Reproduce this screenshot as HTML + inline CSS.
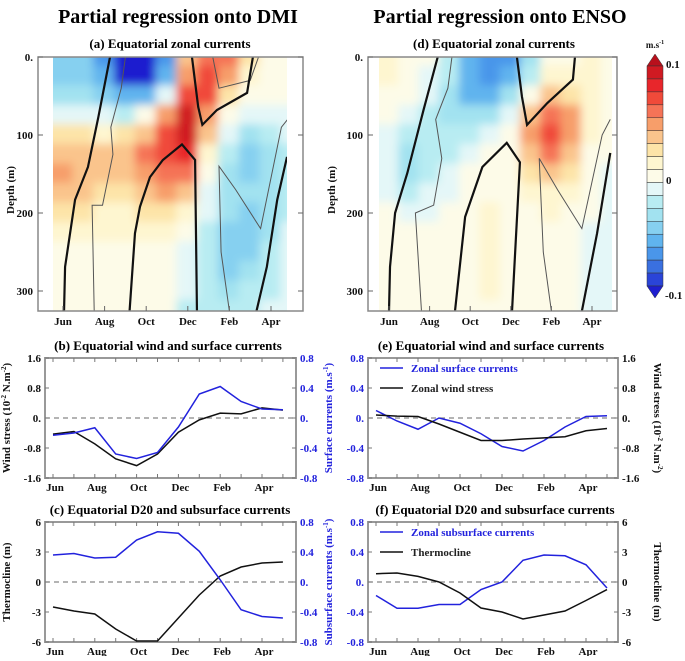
<!DOCTYPE html>
<html><head><meta charset="utf-8">
<style>
html,body{margin:0;padding:0;background:#fff;}
svg text{font-family:"Liberation Serif",serif;font-weight:bold;}
</style></head>
<body>
<svg id="fig" width="685" height="656" viewBox="0 0 685 656" xmlns="http://www.w3.org/2000/svg">
<defs>
<filter id="blur" x="-10%" y="-10%" width="120%" height="120%"><feGaussianBlur stdDeviation="4.5"/></filter>
<clipPath id="clipA"><rect x="53" y="57" width="234" height="254"/></clipPath>
<clipPath id="clipD"><rect x="379" y="57" width="233" height="254"/></clipPath>
</defs>
<text x="178" y="23" font-size="20" text-anchor="middle">Partial regression onto DMI</text>
<text x="500" y="23" font-size="20" text-anchor="middle">Partial regression onto ENSO</text>
<text x="170" y="48" font-size="13" text-anchor="middle">(a) Equatorial zonal currents</text>
<text x="494" y="48" font-size="13" text-anchor="middle">(d) Equatorial zonal currents</text>
<text x="168" y="350" font-size="13" text-anchor="middle">(b) Equatorial wind and surface currents</text>
<text x="170" y="514" font-size="13" text-anchor="middle">(c) Equatorial D20 and subsurface currents</text>
<text x="491" y="350" font-size="13" text-anchor="middle">(e) Equatorial wind and surface currents</text>
<text x="495" y="514" font-size="13" text-anchor="middle">(f) Equatorial D20 and subsurface currents</text>
<g id="root"></g>
</svg>
<script>
const months = ["Jun","Jul","Aug","Sep","Oct","Nov","Dec","Jan","Feb","Mar","Apr","May"];
const monthTicks = ["Jun","Aug","Oct","Dec","Feb","Apr"];
const depths = [0,25,50,75,100,125,150,175,200,225,250,275,300,325];
// heatmap values (columns = months, rows = depths), scaled to +-1 (= +-0.1 m/s)
const dmiField = [
 [-0.4,-0.4,-0.3,-0.1,0.2,0.35,0.4,0.35,0.2,0.1,0.05,0.05,0.05,0.05],
 [-0.45,-0.45,-0.35,-0.1,0.2,0.35,0.35,0.3,0.2,0.1,0.05,0.05,0.05,0.05],
 [-0.7,-0.6,-0.4,-0.15,0.15,0.3,0.3,0.25,0.15,0.1,0.05,0.05,0.05,0.05],
 [-1,-0.95,-0.6,-0.2,0.2,0.35,0.3,0.2,0.15,0.1,0.05,0.05,0.05,0.05],
 [-1,-0.95,-0.5,-0.05,0.35,0.55,0.45,0.3,0.2,0.1,0.05,0.05,0,0],
 [-0.7,-0.5,-0.1,0.4,0.7,0.7,0.55,0.4,0.25,0.1,0.05,0,0,-0.05],
 [0.35,0.45,0.65,0.85,0.9,0.8,0.6,0.3,0.1,0,-0.1,-0.15,-0.15,-0.2],
 [0.6,0.65,0.65,0.5,0.3,0.1,-0.05,-0.1,-0.15,-0.2,-0.25,-0.2,-0.2,-0.2],
 [0.55,0.45,0.2,0,-0.15,-0.25,-0.3,-0.3,-0.35,-0.4,-0.45,-0.4,-0.3,-0.25],
 [0.2,0.1,0,-0.15,-0.3,-0.4,-0.4,-0.35,-0.4,-0.45,-0.4,-0.3,-0.25,-0.2],
 [0.05,0.05,0,-0.1,-0.2,-0.3,-0.3,-0.3,-0.3,-0.3,-0.25,-0.2,-0.2,-0.15],
 [0.05,0.05,0,-0.1,-0.15,-0.2,-0.2,-0.2,-0.2,-0.15,-0.15,-0.1,-0.1,-0.1]];
const ensoField = [
 [0.1,0.1,0.05,-0.05,-0.1,-0.15,-0.15,-0.1,-0.05,-0.05,-0.05,-0.05,-0.05,-0.05],
 [0.05,0,-0.05,-0.1,-0.2,-0.3,-0.3,-0.2,-0.1,-0.05,-0.05,-0.05,-0.05,-0.05],
 [-0.05,-0.1,-0.15,-0.2,-0.25,-0.25,-0.2,-0.15,-0.1,-0.05,-0.05,-0.05,-0.05,-0.05],
 [-0.2,-0.25,-0.3,-0.3,-0.25,-0.2,-0.15,-0.1,-0.05,-0.05,-0.05,0,0,0],
 [-0.55,-0.55,-0.5,-0.3,-0.2,-0.1,-0.05,0,0.05,0.05,0.05,0.05,0.05,0.05],
 [-0.7,-0.65,-0.55,-0.3,-0.15,-0.05,0,0.05,0.1,0.1,0.1,0.1,0.1,0.05],
 [-0.65,-0.55,-0.3,-0.1,0.05,0.05,0.05,0.05,0.05,0.05,0.05,0.05,0.05,0.05],
 [-0.3,-0.2,0.05,0.3,0.4,0.35,0.2,0.1,0.05,0.05,0,0,0,0],
 [0,0.1,0.3,0.6,0.7,0.55,0.3,0.15,0.1,0.05,0,0,0,0],
 [0.05,0.1,0.2,0.45,0.5,0.35,0.2,0.1,0.05,0,0,-0.05,-0.05,-0.05],
 [0.1,0.1,0.1,0.1,0.1,0.05,0,-0.05,-0.05,-0.1,-0.1,-0.1,-0.1,-0.1],
 [0.05,0.05,0.05,0,-0.05,-0.05,-0.1,-0.1,-0.15,-0.15,-0.15,-0.15,-0.15,-0.1]];
// zero contours as [monthIndex, depth]
const dmiZero1 = [[0.05,326],[0.1,269],[0.58,183],[1.2,141],[1.7,77],[2.26,0]];
const dmiZero2 = [[3.2,326],[3.46,226],[3.7,192],[4.18,154],[4.8,132],[5.72,112],[6.35,132],[6.44,326]];
const dmiZero3 = [[6.2,0],[6.5,64],[6.7,87],[7.4,68],[8.85,46],[9.13,0]];
const dmiZero4 = [[9.3,326],[9.8,269],[10.3,183],[10.77,128]];
const ensoZero1 = [[0,326],[0.05,269],[0.3,200],[0.9,149],[1.7,68],[2.4,0]];
const ensoZero2 = [[3.25,326],[3.75,205],[4.6,141],[5.8,110],[6.45,135],[6.06,326]];
const ensoZero3 = [[6.3,0],[6.55,51],[6.8,87],[7.8,59],[9.06,29],[9.16,0]];
const ensoZero4 = [[9.5,326],[10.25,226],[10.9,123]];
// thin contours [monthIndex, depth]
const dmiThin1 = [[1.5,326],[1.4,190],[1.9,190],[2.4,125],[2.3,90],[2.8,40],[3.0,0]];
const dmiThin2 = [[7.2,0],[7.5,40],[9.0,30],[9.4,0]];
const dmiThin3 = [[8.0,326],[7.6,250],[7.5,140],[8.3,170],[9.5,220],[10.5,90],[10.8,80]];
const ensoThin1 = [[1.6,326],[1.3,200],[2.2,190],[2.6,130],[2.3,80],[2.9,40],[3.1,0]];
const ensoThin2 = [[8.0,326],[7.6,250],[7.4,130],[8.3,170],[9.5,220],[10.5,100],[10.9,80]];
// line chart series
const bWind = [-0.43,-0.36,-0.69,-1.09,-1.27,-0.96,-0.38,-0.05,0.13,0.11,0.27,0.21];
const bCurr = [-0.23,-0.2,-0.13,-0.48,-0.54,-0.46,-0.12,0.32,0.42,0.22,0.12,0.11];
const cThermo = [-2.5,-2.9,-3.2,-4.7,-5.9,-5.9,-3.6,-1.3,0.6,1.5,1.9,2.0];
const cSub = [0.36,0.38,0.32,0.33,0.56,0.67,0.65,0.41,0.03,-0.37,-0.46,-0.48];
const eCurr = [0.1,-0.04,-0.15,0.0,-0.07,-0.21,-0.38,-0.44,-0.3,-0.12,0.02,0.03];
const eWind = [0.08,0.05,0.04,-0.16,-0.38,-0.6,-0.6,-0.56,-0.53,-0.5,-0.34,-0.28];
const fSub = [-0.18,-0.35,-0.35,-0.3,-0.3,-0.1,0.0,0.29,0.36,0.35,0.23,-0.08];
const fThermo = [0.83,0.9,0.56,0,-1.1,-2.6,-3.0,-3.7,-3.3,-2.9,-1.85,-0.76];
const windTicks = ["1.6","0.8","0.","-0.8","-1.6"];
const currTicks = ["0.8","0.4","0.","-0.4","-0.8"];
const thermoTicks = ["6","3","0","-3","-6"];
const depthTicks = [0,100,200,300];
const cbColors = ["#b8101c","#d01a22","#e8262b","#f04a3a","#f57357","#f79e6a","#fac48c","#fde4a8","#fef6d0","#fdfbe8","#e4f7f8","#b8ecf2","#a2e2f0","#86d0f0","#60b4ee","#4a96ea","#3a70e0","#2a44d8","#1e1ecf"];

const NS="http://www.w3.org/2000/svg";
const root=document.getElementById('root');
function mk(tag,attrs,parent){const e=document.createElementNS(NS,tag);for(const k in attrs)e.setAttribute(k,attrs[k]);(parent||root).appendChild(e);return e;}
function txt(x,y,s,size,anchor,fill,parent){const t=mk('text',{x:x,y:y,'font-size':size,'text-anchor':anchor||'middle',fill:fill||'#111'},parent);t.textContent=s;return t;}
function colorFor(v){let i=Math.round((1-v)/2*(cbColors.length-1));i=Math.max(0,Math.min(cbColors.length-1,i));return cbColors[i];}

function heatPanel(field,zeros,thins,X0,step,left,right,clip,name,dlabelX){
  const xs=m=>X0+m*step, ys=d=>57+d*0.78;
  const g=mk('g',{'clip-path':'url(#'+clip+')'});
  
  
  const inner=mk('g',{filter:'url(#blur)'},g);
  const nm=field.length, nd=depths.length;
  for(let m=-1;m<=nm;m++){for(let di=-1;di<=nd;di++){
    const mc=Math.max(0,Math.min(nm-1,m)), dc=Math.max(0,Math.min(nd-1,di));
    const v=field[mc][dc];
    const r=mk('rect',{x:xs(m-0.5)-1,y:57+(di-0.5)*25*0.78-1,width:step+2,height:25*0.78+2,fill:colorFor(v)},inner);
    
    
  }}
  thins.forEach(z=>{
    const p=mk('polyline',{points:z.map(q=>xs(q[0])+','+ys(q[1])).join(' '),fill:'none',stroke:'#555','stroke-width':1},g);
    
    
  });
  zeros.forEach(z=>{
    const p=mk('polyline',{points:z.map(q=>xs(q[0])+','+ys(q[1])).join(' '),fill:'none',stroke:'#111','stroke-width':2.2},g);
    
    
  });
  const fr=mk('rect',{x:left,y:57,width:right-left,height:254,fill:'none',stroke:'#888','stroke-width':1.5});
  
  
  depthTicks.forEach(d=>{
    mk('line',{x1:left,x2:left+5,y1:ys(d),y2:ys(d),stroke:'#666'});
    mk('line',{x1:right,x2:right-5,y1:ys(d),y2:ys(d),stroke:'#666'});
    txt(left-5,ys(d)+4,d===0?'0.':String(d),11,'end');
  });
  monthTicks.forEach((mn,i)=>{
    const x=xs(i*2);
    mk('line',{x1:x,x2:x,y1:311,y2:306,stroke:'#666'});
    txt(x,325,mn,11);
  });
  const dl=txt(0,0,'Depth (m)',11,'middle');
  dl.setAttribute('transform','translate('+dlabelX+',190) rotate(-90)');
}
heatPanel(dmiField,[dmiZero1,dmiZero2,dmiZero3,dmiZero4],[dmiThin1,dmiThin2,dmiThin3],63,20.8,38,303,'clipA','panel-a',14);
heatPanel(ensoField,[ensoZero1,ensoZero2,ensoZero3,ensoZero4],[ensoThin1,ensoThin2],389,20.3,368,617,'clipD','panel-d',335);

// colorbar
const cb=mk('g',{});


const cbTop=66,cbBot=286,segH=(cbBot-cbTop)/(cbColors.length-2);
mk('polygon',{points:'647,'+cbTop+' 655,54 663,'+cbTop,fill:cbColors[0],stroke:'#333','stroke-width':0.5},cb);
for(let i=1;i<cbColors.length-1;i++){mk('rect',{x:647,y:cbTop+(i-1)*segH,width:16,height:segH,fill:cbColors[i],stroke:'#333','stroke-width':0.5},cb);}
mk('polygon',{points:'647,'+cbBot+' 655,298 663,'+cbBot,fill:cbColors[cbColors.length-1],stroke:'#333','stroke-width':0.5},cb);
txt(666,68,'0.1',11,'start','#111',cb);txt(666,184,'0',11,'start','#111',cb);txt(665,299,'-0.1',11,'start','#111',cb);
const unit=txt(655,48,'m.s',9,'middle','#111',cb);const sup=mk('tspan',{dy:-4,'font-size':6},unit);sup.textContent='-1';

function linePanel(o){
  const {L,R,T,B}=o; const xs=m=>o.X0+m*o.step;
  const yl=v=>T+(o.lmax-v)/(2*o.lmax)*(B-T), yr=v=>T+(o.rmax-v)/(2*o.rmax)*(B-T);
  const g=mk('g',{});
  
  
  mk('rect',{x:L,y:T,width:R-L,height:B-T,fill:'none',stroke:'#999','stroke-width':2},g);
  mk('line',{x1:L,x2:R,y1:(T+B)/2,y2:(T+B)/2,stroke:'#888','stroke-dasharray':'5,4','stroke-width':1.2},g);
  for(let i=0;i<12;i++){const x=xs(i);mk('line',{x1:x,x2:x,y1:T,y2:T+4,stroke:'#777'},g);mk('line',{x1:x,x2:x,y1:B,y2:B-4,stroke:'#777'},g);}
  monthTicks.forEach((mn,i)=>txt(xs(i*2)+2,B+13,mn,11,'middle','#111',g));
  o.lticks.forEach((t,i)=>{const y=T+i*(B-T)/4;mk('line',{x1:L,x2:L+4,y1:y,y2:y,stroke:'#777'},g);txt(L-4,y+4,t,11,'end',o.lcol,g);});
  o.rticks.forEach((t,i)=>{const y=T+i*(B-T)/4;mk('line',{x1:R,x2:R-4,y1:y,y2:y,stroke:'#777'},g);txt(R+4,y+4,t,11,'start',o.rcol,g);});
  o.series.forEach(s=>{
    const f=s.side==='l'?yl:yr;
    const p=mk('polyline',{points:s.data.map((v,i)=>xs(i)+','+f(v)).join(' '),fill:'none',stroke:s.color,'stroke-width':1.5},g);
    
    
  });
  const ll=txt(0,0,'',11,'middle',o.lcol,g);ll.setAttribute('transform','translate('+o.llx+','+(T+B)/2+') rotate(-90)');o.llab(ll);
  const rl=txt(0,0,'',11,'middle',o.rcol,g);rl.setAttribute('transform','translate('+o.rlx+','+(T+B)/2+') rotate('+o.rrot+')');o.rlab(rl);
  (o.legend||[]).forEach((e,i)=>{
    const y=T+10+i*20;
    mk('line',{x1:L+12,x2:L+35,y1:y,y2:y,stroke:e.color,'stroke-width':1.5},g);
    const t=txt(L+43,y+4,e.label,11,'start',e.color==='#111'?'#222':'#2222dd',g);
    
    
  });
}
function lab(base,sup,rest){return t=>{t.appendChild(document.createTextNode(base));const s=mk('tspan',{dy:-4,'font-size':7},t);s.textContent=sup;const r=mk('tspan',{dy:4},t);r.textContent=rest;};}
function windLab(t){t.appendChild(document.createTextNode('Wind stress (10'));let s=mk('tspan',{dy:-4,'font-size':7},t);s.textContent='-2';let r=mk('tspan',{dy:4},t);r.textContent=' N.m';s=mk('tspan',{dy:-4,'font-size':7},t);s.textContent='-2';r=mk('tspan',{dy:4},t);r.textContent=')';}
const BLUE='#2222dd';
linePanel({name:'panel-b',L:45,R:296,T:358,B:478,X0:53,step:20.9,lmax:1.6,rmax:0.8,lticks:windTicks,rticks:currTicks,lcol:'#111',rcol:BLUE,
 series:[{data:bWind,side:'l',color:'#111',name:'wind-stress-line'},{data:bCurr,side:'r',color:BLUE,name:'surface-current-line'}],
 llx:10,rlx:332,rrot:-90,llab:windLab,rlab:lab('Surface currents (m.s','-1',')')});
linePanel({name:'panel-c',L:45,R:296,T:522,B:642,X0:53,step:20.9,lmax:6,rmax:0.8,lticks:thermoTicks,rticks:currTicks,lcol:'#111',rcol:BLUE,
 series:[{data:cThermo,side:'l',color:'#111',name:'thermocline-line'},{data:cSub,side:'r',color:BLUE,name:'subsurface-current-line'}],
 llx:10,rlx:332,rrot:-90,llab:t=>{t.textContent='Thermocline (m)';},rlab:lab('Subsurface currents (m.s','-1',')')});
linePanel({name:'panel-e',L:368,R:618,T:358,B:478,X0:376,step:21,lmax:0.8,rmax:1.6,lticks:currTicks,rticks:windTicks,lcol:BLUE,rcol:'#111',
 series:[{data:eCurr,side:'l',color:BLUE,name:'surface-current-line'},{data:eWind,side:'r',color:'#111',name:'wind-stress-line'}],
 llx:-100,rlx:654,rrot:90,llab:t=>{},rlab:windLab,
 legend:[{color:BLUE,label:'Zonal surface currents'},{color:'#111',label:'Zonal wind stress'}]});
linePanel({name:'panel-f',L:368,R:618,T:522,B:642,X0:376,step:21,lmax:0.8,rmax:6,lticks:currTicks,rticks:thermoTicks,lcol:BLUE,rcol:'#111',
 series:[{data:fSub,side:'l',color:BLUE,name:'subsurface-current-line'},{data:fThermo,side:'r',color:'#111',name:'thermocline-line'}],
 llx:-100,rlx:654,rrot:90,llab:t=>{},rlab:t=>{t.textContent='Thermocline (m)';},
 legend:[{color:BLUE,label:'Zonal subsurface currents'},{color:'#111',label:'Thermocline'}]});
</script>
</body></html>
